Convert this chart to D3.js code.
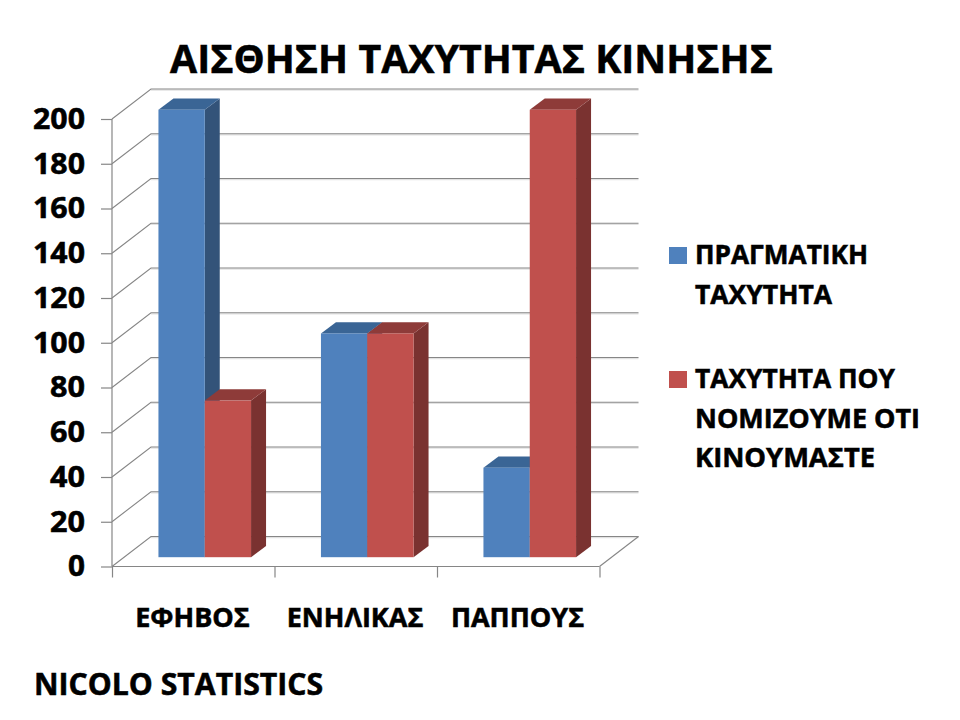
<!DOCTYPE html>
<html><head><meta charset="utf-8">
<script src="https://cdn.jsdelivr.net/npm/d3@7"></script>
<style>html,body{margin:0;background:#fff}svg{display:block}
text{font-family:"Open Sans",sans-serif;font-weight:700;fill:#000;stroke:#000;stroke-width:.55px}</style></head>
<body><div id="c"></div>
<script>
const title = "ΑΙΣΘΗΣΗ ΤΑΧΥΤΗΤΑΣ ΚΙΝΗΣΗΣ";
const footer = "NICOLO STATISTICS";
const categories = ["ΕΦΗΒΟΣ","ΕΝΗΛΙΚΑΣ","ΠΑΠΠΟΥΣ"];
const seriesNames = [["ΠΡΑΓΜΑΤΙΚΗ","ΤΑΧΥΤΗΤΑ"],["ΤΑΧΥΤΗΤΑ ΠΟΥ","ΝΟΜΙΖΟΥΜΕ ΟΤΙ","ΚΙΝΟΥΜΑΣΤΕ"]];
const realSpeed = [200,100,40];
const perceivedSpeed = [70,100,200];
const yTicks = [0,20,40,60,80,100,120,140,160,180,200];
const colors = ["#4F81BD","#C0504D"], topColors=["#3A6595","#8E3B39"], sideColors=["#335379","#7A3230"];

const svg = d3.select("#c").append("svg").attr("width",960).attr("height",720);
const y = d3.scaleLinear().domain([0,200]).range([566.5,119]);
const x = d3.scaleBand().domain(categories).range([112,599.5]);
const sub = d3.scaleBand().domain([0,1]).range([0,92.6]);
const wall = {dx:39,dy:-30}, front={dx:11.5,dy:-9.3}, depth={dx:15,dy:-11.3};
const grid = "#868686";
const g = svg.append("g");

yTicks.forEach(t=>{
  g.append("path").attr("fill","none").attr("stroke","#e2e2e2").attr("stroke-width",1.2)
   .attr("d",`M${x.range()[0]+wall.dx},${y(t)+wall.dy+1.2}H${x.range()[1]+wall.dx}`);
  g.append("path").attr("fill","none").attr("stroke",grid).attr("stroke-width",1.1)
   .attr("d",`M${x.range()[0]},${y(t)}L${x.range()[0]+wall.dx},${y(t)+wall.dy}H${x.range()[1]+wall.dx}`);
});
g.append("path").attr("fill","none").attr("stroke",grid).attr("stroke-width",1.1)
 .attr("d",`M${x.range()[1]},${y(0)}l${wall.dx},${wall.dy}`);

[realSpeed,perceivedSpeed].forEach((vals,s)=>{
  vals.forEach((v,i)=>{
    const cx = x(categories[i])+x.bandwidth()/2+front.dx;
    const x0 = cx-sub.range()[1]/2+sub(s), w=sub.bandwidth();
    const y0 = y(0)+front.dy, y1=y(v)+front.dy;
    const b = g.append("g");
    b.append("path").attr("fill",sideColors[s])
     .attr("d",`M${x0+w},${y1}l${depth.dx},${depth.dy}V${y0+depth.dy}l${-depth.dx},${-depth.dy}Z`);
    b.append("path").attr("fill",topColors[s])
     .attr("d",`M${x0},${y1}l${depth.dx},${depth.dy}h${w}l${-depth.dx},${-depth.dy}Z`);
    b.append("rect").attr("x",x0).attr("y",y1).attr("width",w).attr("height",y0-y1).attr("fill",colors[s]);
  });
});

const ay = svg.append("g").attr("transform","translate(112,0)")
  .call(d3.axisLeft(y).tickValues(yTicks).tickSize(11).tickPadding(16));
const ax = svg.append("g").attr("transform",`translate(0,${y(0)})`)
  .call(d3.axisBottom(d3.scalePoint().domain([0,1,2,3]).range(x.range())).tickSize(11).tickFormat(""));
[ay,ax].forEach(a=>{a.selectAll("path,line").attr("stroke",grid).attr("stroke-width",1.2);a.select(".domain").attr("d",a===ay?`M0,${y(200)}V${y(0)}`:`M${x.range()[0]},0H${x.range()[1]}`);});
ay.selectAll("text").attr("font-size",29).attr("font-family",'"Open Sans",sans-serif').attr("font-weight",700).attr("fill","#000").attr("textLength",52).attr("lengthAdjust","spacingAndGlyphs");
ay.selectAll("text").filter(d=>d<100).attr("textLength",35);
ay.selectAll("text").filter(d=>d===0).attr("textLength",17);

categories.forEach((c,i)=>svg.append("text").attr("x",x(c)+x.bandwidth()/2-0.7).attr("y",626.5).attr("text-anchor","middle").attr("font-size",27).text(c));

svg.append("text").attr("x",471.5).attr("y",73).attr("text-anchor","middle").attr("font-size",39.3).text(title);
svg.append("text").attr("x",34).attr("y",695).attr("font-size",30.2).text(footer);

const lineY=[[264,304],[388,428,467]];
const lineW=[[173,137],[200,225,180]];
seriesNames.forEach((ls,s)=>{
  svg.append("rect").attr("x",669).attr("y",lineY[s][0]-17).attr("width",18).attr("height",17).attr("fill",colors[s]);
  ls.forEach((t,k)=>svg.append("text").attr("x",695).attr("y",lineY[s][k]).attr("font-size",26.5)
    .attr("textLength",lineW[s][k]).attr("lengthAdjust","spacingAndGlyphs").text(t));
});
</script></body></html>
